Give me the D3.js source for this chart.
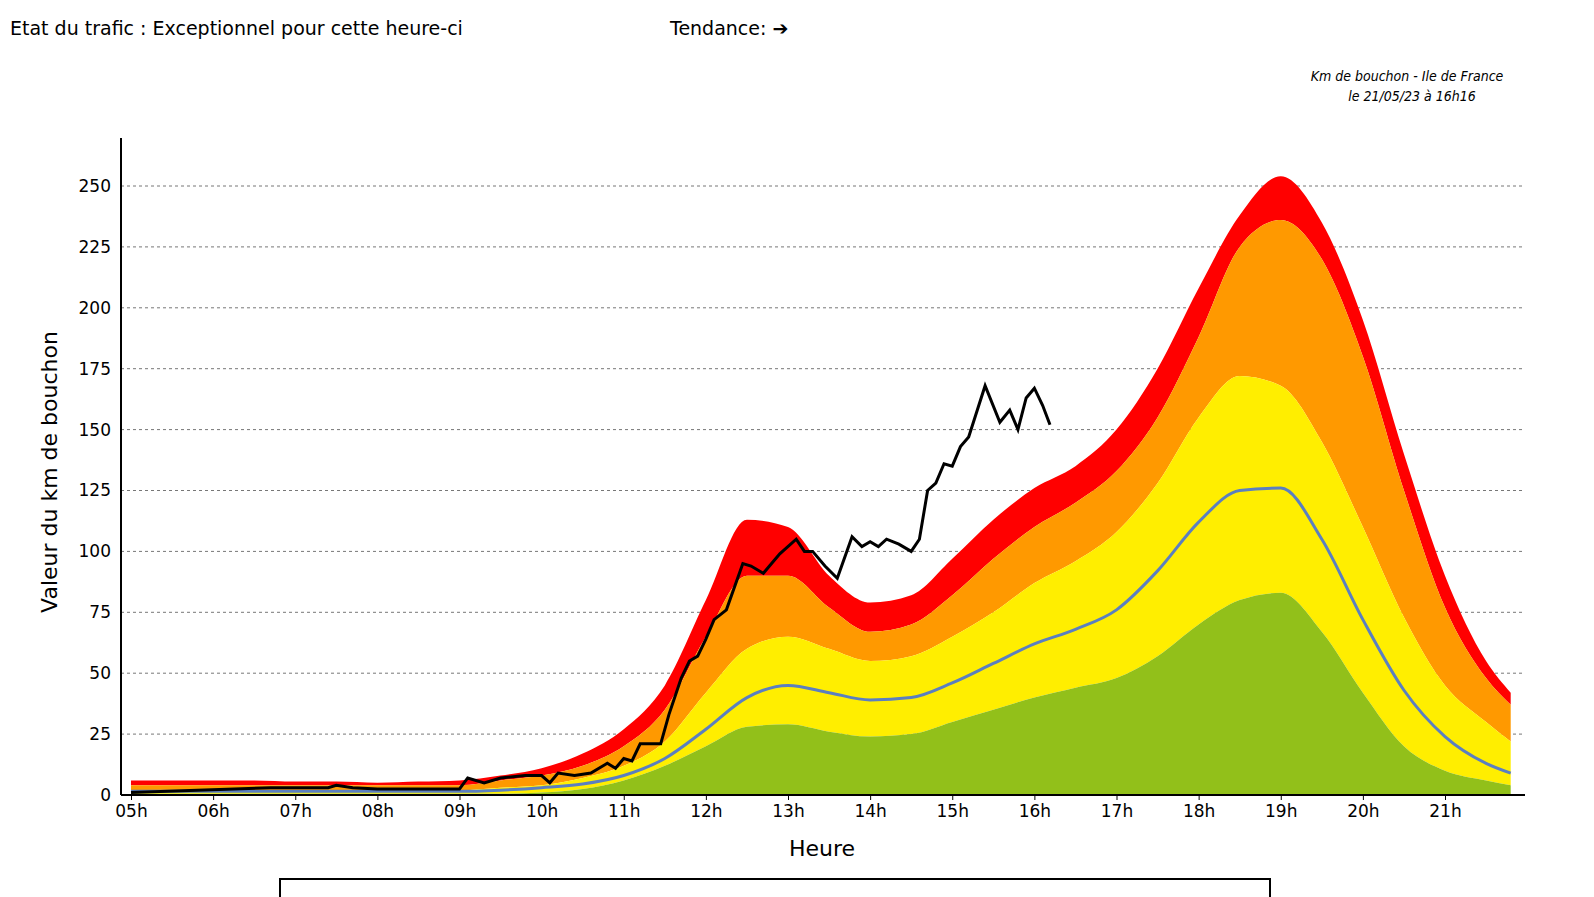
<!DOCTYPE html>
<html><head><meta charset="utf-8">
<script src="https://cdn.jsdelivr.net/npm/d3@7"></script>
<style>body{margin:0;background:#fff;font-family:"DejaVu Sans",sans-serif}</style>
</head><body><svg id="c" width="1594" height="897"></svg>
<script>
// hours for reference bands
var hours = [5,5.5,6,6.5,7,7.5,8,8.5,9,9.5,10,10.5,11,11.5,12,12.5,13,13.5,14,14.5,15,15.5,16,16.5,17,17.5,18,18.5,19,19.5,20,20.5,21,21.5,21.8];
var redTop    = [6,6,6,6,5.5,5.5,5,5.5,6,8,11,17,27,45,80,113,110,90,79,82,97,113,126,135,150,175,208,238,254,235,195,140,90,55,42];
var orangeTop = [4,4,4,4,4,4,4,4,4,6,8,12,20,35,65,90,90,77,67,70,82,97,110,120,133,155,188,225,236,220,180,125,77,48,37];
var yellowTop = [2,2,2,2,2,2,2,2,2,3,4,7,12,22,42,60,65,60,55,57,65,75,87,96,108,128,155,172,168,145,110,73,45,30,22];
var greenTop  = [0.5,0.5,0.5,0.5,0.5,0.5,0.5,0.5,0.5,0.5,1,2.5,6,12,20,28,29,26,24,25,30,35,40,44,48,57,70,80,83,67,42,20,10,6,4];
var blueLine  = [1.5,1.5,1.5,1.5,1.5,1.5,1.5,1.5,1.5,2,3,4.5,8,15,27,40,45,42,39,40,46,54,62,68,76,92,112,125,126,105,72,43,24,13,9];
// today's measure
var nowHours = [5,6.7,7.4,7.5,7.7,8,9,9.1,9.3,9.5,9.8,10,10.1,10.2,10.4,10.6,10.8,10.9,11,11.1,11.2,11.45,11.55,11.7,11.8,11.9,12,12.1,12.25,12.45,12.55,12.7,12.8,12.9,13.1,13.2,13.3,13.45,13.6,13.78,13.9,14,14.1,14.2,14.35,14.5,14.6,14.7,14.8,14.9,15,15.1,15.2,15.4,15.58,15.7,15.8,15.9,16,16.1,16.19];
var nowVals  = [1,3,3,4,3,2.5,2.5,7,5,7,8,8,5,9,8,9,13,11,15,14,21,21,33,48,55,57,64,72,76,95,94,91,95,99,105,100,100,94,89,106,102,104,102,105,103,100,105,125,128,136,135,143,147,168,153,158,150,163,167,160,152];
var xTicks = d3.range(5,22);
var yTicks = [0,25,50,75,100,125,150,175,200,225,250];

var svg = d3.select("#c");
var x = d3.scaleLinear().domain([5,21]).range([131,1445]);
var y = d3.scaleLinear().domain([0,250]).range([795,186]);

svg.append("text").attr("x",10).attr("y",35).attr("font-size",19).text("Etat du trafic : Exceptionnel pour cette heure-ci");
svg.append("text").attr("x",670).attr("y",35).attr("font-size",19).text("Tendance: \u2794");
var st = svg.append("text").attr("font-size",14).attr("font-style","italic").attr("text-anchor","middle").attr("font-family","'DejaVu Sans Condensed',sans-serif");
st.append("tspan").attr("x",1407).attr("y",81).text("Km de bouchon - Ile de France");
st.append("tspan").attr("x",1412).attr("y",101).text("le 21/05/23 à 16h16");

// grid
svg.selectAll(".g").data(yTicks.slice(1)).enter().append("line")
  .attr("x1",121).attr("x2",1525).attr("y1",y).attr("y2",y)
  .attr("stroke","#777").attr("stroke-dasharray","3,3");

function band(top, bot, col){
  var a = d3.area().x(function(d,i){return x(hours[i]);}).y0(function(d,i){return y(bot ? bot[i] : 0);}).y1(function(d){return y(d);}).curve(d3.curveMonotoneX);
  svg.append("path").datum(top).attr("d",a).attr("fill",col);
}
band(redTop, orangeTop, "#ff0000");
band(orangeTop, yellowTop, "#ff9900");
band(yellowTop, greenTop, "#ffee00");
band(greenTop, null, "#92c01a");

svg.append("path").datum(blueLine).attr("fill","none").attr("stroke","#5b7fc0").attr("stroke-width",3)
  .attr("d", d3.line().x(function(d,i){return x(hours[i]);}).y(function(d){return y(d);}).curve(d3.curveMonotoneX));
svg.append("path").datum(nowVals).attr("fill","none").attr("stroke","#000").attr("stroke-width",3)
  .attr("d", d3.line().x(function(d,i){return x(nowHours[i]);}).y(function(d){return y(d);}));

// axes
var ya = svg.append("g").attr("transform","translate(121,0)")
  .call(d3.axisLeft(y).tickValues(yTicks).tickSize(0).tickPadding(10));
ya.select(".domain").attr("d","M0,138V795").attr("stroke","#000").attr("stroke-width",2);
ya.selectAll("text").attr("font-size",17).attr("font-family","'DejaVu Sans',sans-serif");
var xa = svg.append("g").attr("transform","translate(0,795)")
  .call(d3.axisBottom(x).tickValues(xTicks).tickSize(5).tickPadding(5).tickFormat(function(d){return (d<10?"0":"")+d+"h";}));
xa.select(".domain").attr("d","M121,0H1525").attr("stroke","#000").attr("stroke-width",2);
xa.selectAll("text").attr("font-size",17).attr("font-family","'DejaVu Sans',sans-serif");

svg.append("text").attr("x",822).attr("y",856).attr("text-anchor","middle").attr("font-size",22).text("Heure");
svg.append("text").attr("transform","translate(57,472) rotate(-90)").attr("text-anchor","middle").attr("font-size",22).text("Valeur du  km de bouchon");
svg.append("rect").attr("x",280).attr("y",879).attr("width",990).attr("height",40).attr("fill","none").attr("stroke","#000").attr("stroke-width",2);
</script></body></html>
